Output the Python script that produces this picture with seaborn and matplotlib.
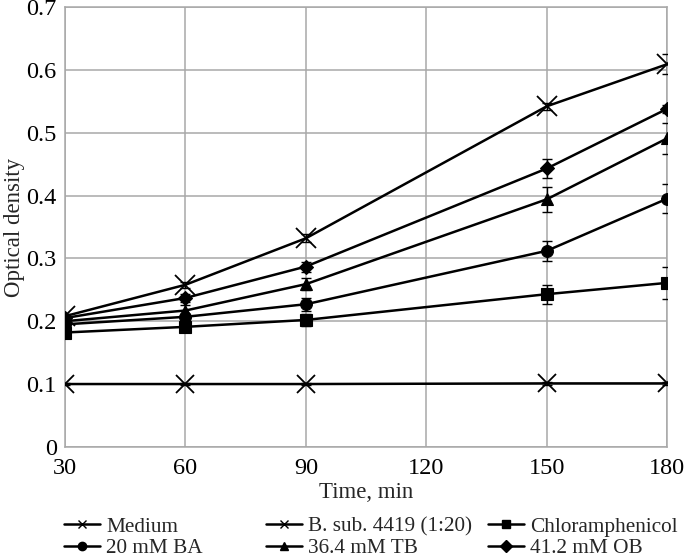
import matplotlib
matplotlib.use("Agg")
import matplotlib.pyplot as plt
import seaborn as sns
import pandas as pd

time_min = [30, 60, 90, 150, 180]
series_names = ["Medium", "B. sub. 4419 (1:20)", "Chloramphenicol",
                "20 mM BA", "36.4 mM TB", "41.2 mM OB"]
medium = [0.100, 0.100, 0.100, 0.101, 0.101]
bsub = [0.208, 0.258, 0.332, 0.542, 0.609]
chloramphenicol = [0.182, 0.191, 0.202, 0.243, 0.261]
ba = [0.195, 0.207, 0.227, 0.312, 0.395]
tb = [0.200, 0.217, 0.259, 0.394, 0.491]
ob = [0.205, 0.237, 0.287, 0.443, 0.538]

err_medium = [0.002, 0.002, 0.002, 0.002, 0.002]
err_bsub = [0.004, 0.005, 0.006, 0.006, 0.016]
err_chl = [0.004, 0.007, 0.009, 0.015, 0.026]
err_ba = [0.004, 0.005, 0.010, 0.016, 0.023]
err_tb = [0.004, 0.008, 0.009, 0.020, 0.025]
err_ob = [0.004, 0.006, 0.008, 0.015, 0.006]

x_ticks = [30, 60, 90, 120, 150, 180]
y_ticks = [0, 0.1, 0.2, 0.3, 0.4, 0.5, 0.6, 0.7]
y_ticklabels = ["0", "0.1", "0.2", "0.3", "0.4", "0.5", "0.6", "0.7"]

values = [medium, bsub, chloramphenicol, ba, tb, ob]
errors = [err_medium, err_bsub, err_chl, err_ba, err_tb, err_ob]
markers = ["x", "x", "s", "o", "^", "D"]
msizes = [13, 14, 8, 8.5, 8.5, 7.5]

sns.set_theme(style="white")
plt.rcParams["font.family"] = ["Liberation Serif", "DejaVu Serif"]

fig = plt.figure(figsize=(6.85, 5.6), dpi=100)
ax = fig.add_axes([0.095, 0.202, 0.879, 0.7855])

rows = []
for name, vals, errs in zip(series_names, values, errors):
    for t, v, e in zip(time_min, vals, errs):
        rows.append({"Time": t, "OD": v, "err": e, "Series": name})
df = pd.DataFrame(rows)

for name, mk, ms in zip(series_names, markers, msizes):
    sub = df[df["Series"] == name]
    ax.errorbar(sub["Time"], sub["OD"], yerr=sub["err"], fmt="none",
                ecolor="black", elinewidth=1.0, capsize=3.5, capthick=1.0, zorder=3)
    sns.lineplot(data=sub, x="Time", y="OD", ax=ax, color="black",
                 marker=mk, markersize=ms, markeredgecolor="black",
                 markerfacecolor="black", markeredgewidth=1.3 if mk == "x" else 0.8,
                 linewidth=1.8, label=name, zorder=4, errorbar=None)

ax.set_xlim(30, 180)
ax.set_ylim(0, 0.7)
ax.set_xticks(x_ticks)
ax.set_xticklabels([str(v) for v in x_ticks])
ax.set_yticks(y_ticks)
ax.set_yticklabels(y_ticklabels)
ax.grid(True, color="#a8a8a8", linewidth=1.1)
for s in ax.spines.values():
    s.set_color("#a8a8a8")
    s.set_linewidth(1.1)
ax.tick_params(axis="y", labelsize=17.5, length=0, pad=6, colors="black")
ax.tick_params(axis="x", labelsize=17.5, length=0, pad=8, colors="black")
ax.set_xlabel("Time, min", fontsize=16.5, labelpad=2)
ax.set_ylabel("Optical density", fontsize=16.5, labelpad=1)

handles, labels = ax.get_legend_handles_labels()
if ax.legend_:
    ax.legend_.remove()

col_x = [0.0934, 0.388, 0.712]
for c in range(3):
    hs = [handles[c], handles[c + 3]]
    ls = [labels[c], labels[c + 3]]
    lg = fig.legend(hs, ls, loc="upper left", bbox_to_anchor=(col_x[c], 0.077),
                    frameon=False, fontsize=15.3, borderpad=0, borderaxespad=0,
                    handlelength=1.7, handletextpad=0.3, labelspacing=0.08)
    for h in lg.legend_handles:
        h.set_markersize(6)
        h.set_markeredgewidth(1.0)

fig.savefig("out.png", dpi=100)
